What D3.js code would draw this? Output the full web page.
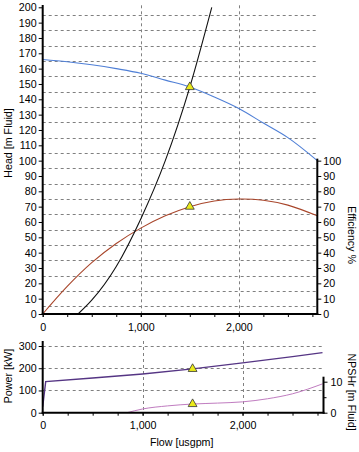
<!DOCTYPE html>
<html><head><meta charset="utf-8">
<script src="https://cdn.jsdelivr.net/npm/d3@7/dist/d3.min.js"></script>
<style>
html,body{margin:0;padding:0;background:#fff;}
svg{display:block;}
text{font-family:"Liberation Sans",Arial,sans-serif;font-size:10.7px;fill:#000;}
</style></head>
<body>
<svg id="c" width="359" height="452"></svg>
<script>
// ---- data ----
const headFlow   = [0, 250, 500, 750, 1000, 1250, 1500, 1750, 2000, 2250, 2500, 2800];
const headValues = [166, 164.5, 162.5, 160, 157, 152.5, 148, 141.5, 134, 124.5, 115, 100];
const effFlow    = [0, 250, 500, 750, 1000, 1250, 1500, 1750, 2000, 2250, 2500, 2800];
const effValues  = [0, 18, 33.5, 46, 56, 64, 70, 73.7, 75, 74.2, 71, 64];
const sysFlow    = [360, 500, 750, 1000, 1250, 1500, 1724];
const sysValues  = [0, 9, 31, 62, 100, 148, 200];
const powFlow    = [0, 30, 500, 1000, 1500, 2000, 2500, 2800];
const powValues  = [27, 140, 156, 174, 197, 224, 252, 270];
const npshFlow   = [843, 1000, 1250, 1500, 1750, 2000, 2250, 2500, 2800];
const npshValues = [0, 1.2, 2.2, 2.8, 3.1, 3.5, 4.5, 6.1, 9.3];
const dutyFlow = 1500;
const dutyHead = 148, dutyEff = 70, dutyPow = 197, dutyNpsh = 2.8;
const headTicks = d3.range(0, 201, 10);
const effTicks  = d3.range(0, 101, 10);
const powTicks  = [0, 100, 200, 300];
const npshTicks = [0, 10];
const flowTicks = [0, 1000, 2000];
const flowMinor = d3.range(0, 2801, 250);

const svg = d3.select("#c");
const fmt = d3.format(",");

// scales
const x  = d3.scaleLinear([0, 2800], [42.7, 317.3]);
const yH = d3.scaleLinear([0, 200], [314, 7.3]);
const yE = d3.scaleLinear([0, 100], [314, yH(100)]);
const xb = d3.scaleLinear([0, 2800], [42.7, 322.5]);
const yP = d3.scaleLinear([0, 300], [412.7, 346]);
const yN = d3.scaleLinear([0, 10], [412.7, 381.7]);

const gridStyle = g => g.attr("stroke", "#808080").attr("stroke-width", 1).attr("stroke-dasharray", "3,3").attr("fill", "none");

// ---- main chart grid ----
const gm = svg.append("g").call(gridStyle);
d3.range(5, 200, 10).forEach(v => {
  gm.append("line").attr("x1", x(0)).attr("x2", x(2800)).attr("y1", Math.round(yH(v)) + 0.5).attr("y2", Math.round(yH(v)) + 0.5);
});
[1000, 2000].forEach(v => {
  gm.append("line").attr("x1", Math.round(x(v)) + 0.5).attr("x2", Math.round(x(v)) + 0.5).attr("y1", yH(200) - 2).attr("y2", yH(0));
});

// ---- bottom chart grid ----
const gb = svg.append("g").call(gridStyle);
[100, 200, 300].forEach(v => {
  gb.append("line").attr("x1", xb(0)).attr("x2", xb(2800)).attr("y1", Math.round(yP(v)) + 0.5).attr("y2", Math.round(yP(v)) + 0.5);
});
[1000, 2000].forEach(v => {
  gb.append("line").attr("x1", Math.round(xb(v)) + 0.5).attr("x2", Math.round(xb(v)) + 0.5).attr("y1", 341).attr("y2", yP(0));
});

// ---- curves ----
function curve(xs, ys, fx, fy, color, w, c) {
  const pts = xs.map((d, i) => [d, ys[i]]);
  svg.append("path").datum(pts)
    .attr("fill", "none").attr("stroke", color).attr("stroke-width", w)
    .attr("d", d3.line().x(d => fx(d[0])).y(d => fy(d[1])).curve(c || d3.curveMonotoneX));
}
curve(headFlow, headValues, x, yH, "#4f7fd6", 1.1);
curve(effFlow, effValues, x, yE, "#a8452a", 1.1, d3.curveCatmullRom);
curve(sysFlow, sysValues, x, yH, "#111", 1.1);
curve(powFlow, powValues, xb, yP, "#553584", 1.4, d3.curveLinear);
curve(npshFlow, npshValues, xb, yN, "#c07cc0", 1);

// ---- axes ----
function thick(g) {
  g.select(".domain").remove();
  g.selectAll(".tick line").attr("stroke", "#000");
  g.selectAll(".tick text").attr("fill", "#000").style("font-size", "10.7px").attr("font-family", null);
}
// left head axis
svg.append("g").attr("transform", `translate(${x(0)},0)`)
  .call(d3.axisLeft(yH).tickValues(headTicks).tickSize(4).tickPadding(2).tickFormat(d3.format("d")))
  .call(thick);
svg.append("line").attr("x1", x(0)).attr("x2", x(0)).attr("y1", 5).attr("y2", yH(0) + 1).attr("stroke", "#000").attr("stroke-width", 2);
// right efficiency axis
svg.append("g").attr("transform", `translate(${x(2800)},0)`)
  .call(d3.axisRight(yE).tickValues(effTicks).tickSize(4).tickPadding(2).tickFormat(d3.format("d")))
  .call(thick);
svg.append("line").attr("x1", x(2800)).attr("x2", x(2800)).attr("y1", yE(100) - 2).attr("y2", yE(0) + 1).attr("stroke", "#000").attr("stroke-width", 2);
// main x axis
svg.append("g").attr("transform", `translate(0,${yH(0)})`)
  .call(d3.axisBottom(x).tickValues(flowMinor).tickSize(3).tickFormat(""))
  .call(thick);
svg.append("g").attr("transform", `translate(0,${yH(0)})`)
  .call(d3.axisBottom(x).tickValues(flowTicks).tickSize(3).tickPadding(6).tickFormat(fmt))
  .call(thick);
svg.append("line").attr("x1", x(0) - 1).attr("x2", x(2800) + 1).attr("y1", yH(0)).attr("y2", yH(0)).attr("stroke", "#000").attr("stroke-width", 2);

// bottom power axis
svg.append("g").attr("transform", `translate(${xb(0)},0)`)
  .call(d3.axisLeft(yP).tickValues(powTicks).tickSize(4).tickPadding(2))
  .call(thick);
svg.append("line").attr("x1", xb(0)).attr("x2", xb(0)).attr("y1", 341).attr("y2", yP(0) + 1).attr("stroke", "#000").attr("stroke-width", 2);
// NPSH axis
svg.append("g").attr("transform", `translate(${xb(2800) + 1},0)`)
  .call(d3.axisRight(yN).tickValues(npshTicks).tickSize(4).tickPadding(3))
  .call(thick);
svg.append("g").attr("transform", `translate(${xb(2800) + 1},0)`)
  .call(d3.axisRight(yN).tickValues([5]).tickSize(3).tickFormat(""))
  .call(thick);
svg.append("line").attr("x1", xb(2800) + 1).attr("x2", xb(2800) + 1).attr("y1", 376.7).attr("y2", yN(0) + 1).attr("stroke", "#000").attr("stroke-width", 2);
// bottom x axis
svg.append("g").attr("transform", `translate(0,${yP(0)})`)
  .call(d3.axisBottom(xb).tickValues(flowMinor).tickSize(3).tickFormat(""))
  .call(thick);
svg.append("g").attr("transform", `translate(0,${yP(0)})`)
  .call(d3.axisBottom(xb).tickValues(flowTicks).tickSize(3).tickPadding(6).tickFormat(fmt))
  .call(thick);
svg.append("line").attr("x1", xb(0) - 1).attr("x2", xb(2800) + 2).attr("y1", yP(0)).attr("y2", yP(0)).attr("stroke", "#000").attr("stroke-width", 2);

// ---- duty point markers ----
const tri = d3.symbol().type(d3.symbolTriangle).size(34);
function marker(px, py) {
  svg.append("path").attr("d", tri).attr("transform", `translate(${px},${py})`)
    .attr("fill", "#eaea1a").attr("stroke", "#333").attr("stroke-width", 0.8);
}
marker(x(dutyFlow), yH(dutyHead));
marker(x(dutyFlow), yE(dutyEff));
marker(xb(dutyFlow), yP(dutyPow));
marker(xb(dutyFlow), yN(dutyNpsh));

// ---- titles ----
svg.append("text").attr("transform", "translate(11.5,143) rotate(-90)").attr("text-anchor", "middle").text("Head [m Fluid]");
svg.append("text").attr("transform", "translate(347.5,235) rotate(90)").attr("text-anchor", "middle").text("Efficiency %");
svg.append("text").attr("transform", "translate(11.5,376) rotate(-90)").attr("text-anchor", "middle").text("Power [kW]");
svg.append("text").attr("transform", "translate(347.5,392) rotate(90)").attr("text-anchor", "middle").text("NPSHr [m Fluid]");
svg.append("text").attr("x", 181.7).attr("y", 445.5).attr("text-anchor", "middle").text("Flow [usgpm]");
</script>
</body></html>
